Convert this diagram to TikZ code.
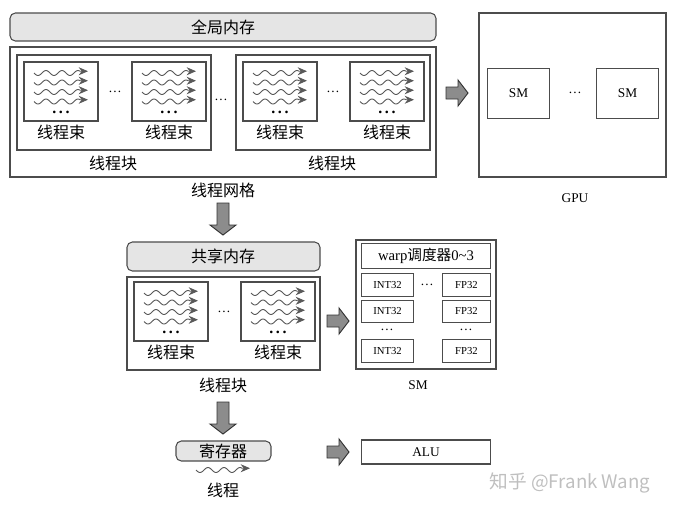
\documentclass[tikz,border=0pt]{standalone}
\usepackage{fontspec}
\setmainfont{Liberation Serif}
\newfontfamily\cjk{Noto Sans CJK SC}
\usetikzlibrary{arrows.meta}
\begin{document}
\begin{tikzpicture}[x=0.75pt,y=-0.75pt,
  box/.style={draw=black!70,line width=0.8pt},
  mem/.style={draw=black!70,line width=0.8pt,fill=black!10,rounded corners=4pt},
  lab/.style={font=\cjk\fontsize{12}{14}\selectfont},
  small/.style={font=\fontsize{8}{9}\selectfont},
  wave/.style={draw=black!65,line width=0.7pt,-{Stealth[length=7pt,width=6pt]}},
  barrow/.style={draw=black!80,fill=black!45,line width=0.7pt}]
\useasboundingbox (0,0) rectangle (673,512);
\newcommand\wv[2]{\draw[wave] plot[domain=0:46,samples=50] ({#1+\x},{#2+2.5*sin(\x*22.5)}) -- ++(8,0);}
\newcommand\warp[3]{% name, x, y (top-left)
  \draw[box] (#2,#3) rectangle ++(74,59);
  \coordinate (#1) at (#2+37,#3+30);
  \foreach \k in {0,1,2,3}{\wv{#2+10}{#3+11+\k*9.5}}
  \node[font=\fontsize{12}{12}\selectfont\bfseries] at (#2+37,#3+50) {.\,.\,.};
  \node[lab] at (#2+37,#3+70) {线程束};}
% block arrow: name, center, rotation, half length
\newcommand\barr[4]{\begin{scope}[shift={(#2)},rotate=#3]
  \draw[barrow] (-#4,-6) -- (#4-10,-6) -- (#4-10,-13) -- (#4,0) -- (#4-10,13) -- (#4-10,6) -- (-#4,6) -- cycle;
  \coordinate (#1) at (0,0);\end{scope}}
% global memory
\draw[mem] (10,13) rectangle (436,41); \node[lab] (gm) at (223,27) {全局内存};
\draw[box] (10,47) rectangle (436,177);
\draw[box] (17,55) rectangle (211,150); \draw[box] (236,55) rectangle (430,150);
\warp{w1}{24}{62}\warp{w2}{132}{62}\warp{w3}{243}{62}\warp{w4}{350}{62}
\node at (115,92) {…}; \node at (333,92) {…}; \node at (221,100) {…};
\node[lab] at (113,163) {线程块}; \node[lab] at (332,163) {线程块};
\barr{a1}{457,93}{0}{11}
% GPU
\draw[box] (479,13) rectangle (666,177);
\node[box,minimum width=47pt,minimum height=37pt] (sm1) at (518.5,93.5) {SM};
\node[box,minimum width=47pt,minimum height=37pt] (sm2) at (627.5,93.5) {SM};
\node at (575,93) {…};
\node (gpu) at (575,198) {GPU};
\node[lab] (grid) at (223,190) {线程网格};
\barr{d1}{223,219}{-90}{16}
% shared
\draw[mem] (127,242) rectangle (320,271); \node[lab] at (223,256) {共享内存};
\draw[box] (127,277) rectangle (320,370);
\warp{w5}{134}{282}\warp{w6}{241}{282}
\node at (224,312) {…};
\node[lab] at (223,385) {线程块};
\barr{a2}{338,321}{0}{11}
% SM
\draw[box] (356,240) rectangle (496,369);
\node[box,minimum width=97pt,minimum height=18pt] (ws) at (426,256) {\fontsize{11}{12}\selectfont warp\cjk 调度器\rmfamily 0\textasciitilde 3};
\foreach \y/\n in {285/a,311.5/b,351/c}{
  \node[box,small,minimum width=39pt,minimum height=17pt] (i\n) at (387.5,\y) {INT32};
  \node[box,small,minimum width=36pt,minimum height=17pt] (f\n) at (466.5,\y) {FP32};}
\node at (427,285) {…}; \node at (387,330) {…}; \node at (466,330) {…};
\node (smlab) at (418,385) {SM};
\barr{d2}{223,418}{-90}{16}
\draw[mem] (176,441) rectangle (271,461); \node[lab] at (223,451) {寄存器};
\wv{196}{470}
\node[lab] at (223,490) {线程};
\barr{a3}{338,452}{0}{11}
\node[box,minimum width=97pt,minimum height=18pt] (alu) at (426,452) {ALU};
\node[lab,text=black!25,font=\cjk\fontsize{14}{16}\selectfont] at (570,483) {知乎 @Frank Wang};
\end{tikzpicture}
\end{document}
